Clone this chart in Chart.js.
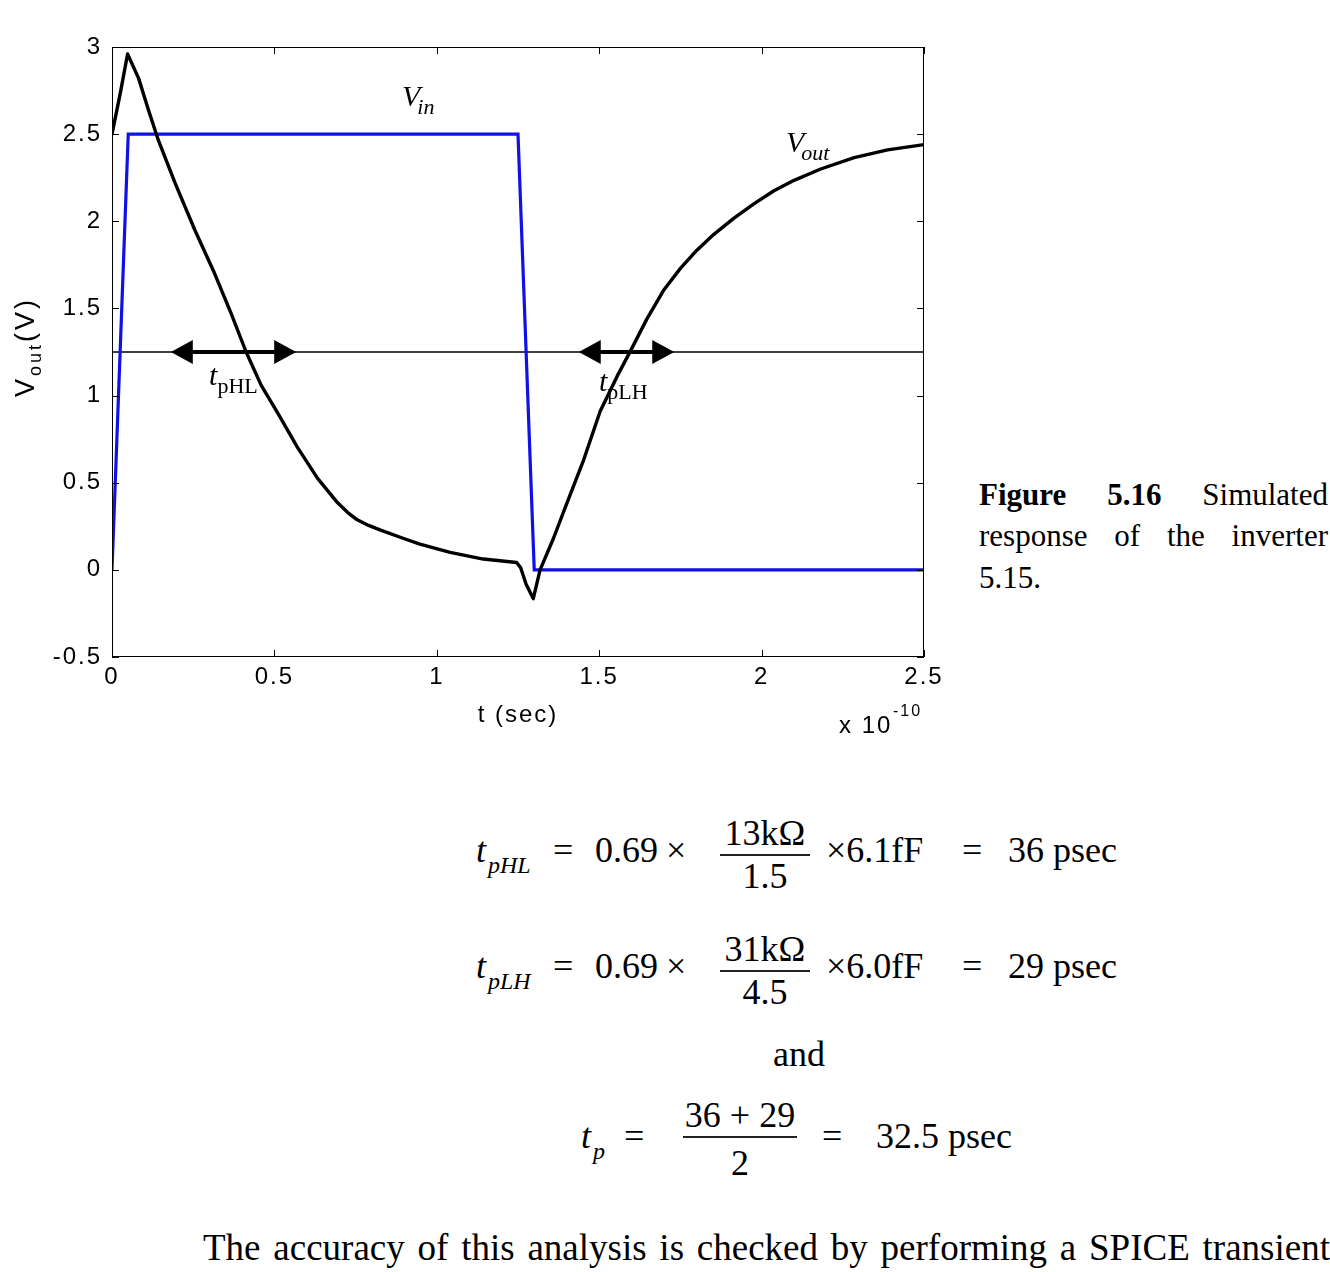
<!DOCTYPE html>
<html><head><meta charset="utf-8">
<script src="https://cdn.jsdelivr.net/npm/chart.js@4.4.1/dist/chart.umd.min.js"></script>
<style>
html,body{margin:0;padding:0;background:#fff;}
body{width:1330px;height:1272px;overflow:hidden;position:relative;}
#wrap{position:absolute;left:0;top:0;width:960px;height:760px;}
.t{position:absolute;white-space:pre;font-family:"Liberation Serif","Times New Roman",serif;color:#000;line-height:1em;}
.bar{position:absolute;height:0;border-top:2px solid #222;}
</style></head><body>
<div id="wrap"><canvas id="c" width="960" height="760"></canvas></div>
<div id="page"></div>
<script>
// ---- data (time in units of 1e-10 s, voltage in V) ----
const voutTime = [0, 0.026, 0.048, 0.082, 0.112, 0.143, 0.194, 0.255, 0.316, 0.367, 0.413, 0.459, 0.51, 0.571, 0.633, 0.694, 0.725, 0.755, 0.79, 0.827, 0.898, 0.948, 1.041, 1.143, 1.246, 1.258, 1.275, 1.297, 1.318, 1.359, 1.40, 1.452, 1.503, 1.555, 1.596, 1.647, 1.699, 1.75, 1.80, 1.853, 1.915, 1.976, 2.038, 2.10, 2.182, 2.285, 2.388, 2.5];
const voutValues = [2.5, 2.74, 2.96, 2.82, 2.64, 2.464, 2.22, 1.95, 1.70, 1.47, 1.25, 1.06, 0.901, 0.703, 0.525, 0.386, 0.33, 0.287, 0.255, 0.228, 0.18, 0.148, 0.10, 0.062, 0.042, 0.013, -0.083, -0.165, 0, 0.18, 0.38, 0.63, 0.91, 1.11, 1.255, 1.44, 1.606, 1.73, 1.833, 1.925, 2.018, 2.10, 2.175, 2.235, 2.30, 2.365, 2.41, 2.44];
const vinTime = [0, 0.05, 1.25, 1.30, 2.5];
const vinValues = [0, 2.5, 2.5, 0, 0];
const thresholdTime = [0, 2.5];
const thresholdValues = [1.25, 1.25];
const xTicks = [0, 0.5, 1, 1.5, 2, 2.5];
const yTicks = [-0.5, 0, 0.5, 1, 1.5, 2, 2.5, 3];
const tpHLSpan = [0.181, 0.567];
const tpLHSpan = [1.437, 1.731];

const toXY = (xs, ys) => xs.map((x, i) => ({x: x, y: ys[i]}));

const SANS = '"Liberation Sans", Arial, Helvetica, sans-serif';
const SERIF = '"Liberation Serif", "Times New Roman", serif';

const annotations = {
  arrows: [
    {from: tpHLSpan[0], to: tpHLSpan[1], y: thresholdValues[0]},
    {from: tpLHSpan[0], to: tpLHSpan[1], y: thresholdValues[0]}
  ],
  labels: [
    {main: 't', sub: 'pHL', x: 0.299, y: 1.061, subItalic: false},
    {main: 't', sub: 'pLH', x: 1.499, y: 1.027, subItalic: false},
    {main: 'V', sub: 'in', x: 0.893, y: 2.66, subItalic: true},
    {main: 'V', sub: 'out', x: 2.075, y: 2.40, subItalic: true}
  ]
};

const framePlugin = {
  id: 'frame',
  beforeDraw(chart) { chart.ctx.letterSpacing = '2px'; },
  afterDatasetsDraw(chart) {
    const ctx = chart.ctx, a = chart.chartArea, xs = chart.scales.x, ys = chart.scales.y;
    ctx.save();
    ctx.letterSpacing = '0px';
    ctx.strokeStyle = '#000';
    ctx.lineWidth = 1;
    ctx.strokeRect(a.left + 0.5, a.top + 0.5, a.right - a.left - 1, a.bottom - a.top - 1);
    const tl = 7;
    ctx.beginPath();
    xTicks.forEach(v => {
      const px = Math.round(xs.getPixelForValue(v)) + 0.5;
      ctx.moveTo(px, a.bottom); ctx.lineTo(px, a.bottom - tl);
      ctx.moveTo(px, a.top); ctx.lineTo(px, a.top + tl);
    });
    yTicks.forEach(v => {
      const py = Math.round(ys.getPixelForValue(v)) + 0.5;
      ctx.moveTo(a.left, py); ctx.lineTo(a.left + tl, py);
      ctx.moveTo(a.right, py); ctx.lineTo(a.right - tl, py);
    });
    ctx.stroke();

    // arrows
    annotations.arrows.forEach(ar => {
      const x1 = xs.getPixelForValue(ar.from), x2 = xs.getPixelForValue(ar.to), y = ys.getPixelForValue(ar.y);
      const hl = 22, hw = 12;
      ctx.fillStyle = '#000';
      ctx.lineWidth = 4;
      ctx.beginPath(); ctx.moveTo(x1 + hl - 2, y); ctx.lineTo(x2 - hl + 2, y); ctx.stroke();
      ctx.beginPath(); ctx.moveTo(x1, y); ctx.lineTo(x1 + hl, y - hw); ctx.lineTo(x1 + hl, y + hw); ctx.closePath(); ctx.fill();
      ctx.beginPath(); ctx.moveTo(x2, y); ctx.lineTo(x2 - hl, y - hw); ctx.lineTo(x2 - hl, y + hw); ctx.closePath(); ctx.fill();
    });

    // text labels
    ctx.fillStyle = '#000';
    ctx.textBaseline = 'alphabetic';
    ctx.textAlign = 'left';
    annotations.labels.forEach(l => {
      const x = xs.getPixelForValue(l.x), y = ys.getPixelForValue(l.y);
      ctx.font = 'italic 30px ' + SERIF;
      ctx.fillText(l.main, x, y);
      const w = ctx.measureText(l.main).width;
      ctx.font = (l.subItalic ? 'italic ' : '') + '22px ' + SERIF;
      ctx.fillText(l.sub, x + w - (l.main === 'V' ? 3 : 0), y + 8);
    });
    ctx.restore();
  },
  afterDraw(chart) {
    const ctx = chart.ctx, a = chart.chartArea;
    ctx.save();
    ctx.fillStyle = '#000';
    ctx.letterSpacing = '2px';
    ctx.textBaseline = 'alphabetic';
    // x title
    ctx.font = '24px ' + SANS;
    ctx.textAlign = 'center';
    ctx.fillText('t (sec)', (a.left + a.right) / 2, 722);
    // exponent
    ctx.textAlign = 'left';
    ctx.fillText('x 10', 839, 733);
    ctx.font = '16px ' + SANS;
    ctx.fillText('-10', 893, 716);
    // y title rotated
    ctx.translate(34, 397);
    ctx.rotate(-Math.PI / 2);
    ctx.letterSpacing = '3px';
    ctx.font = '27px ' + SANS;
    ctx.fillText('V', 0, 0);
    let w = ctx.measureText('V').width;
    ctx.font = '18px ' + SANS;
    ctx.fillText('out', w, 7);
    w += ctx.measureText('out').width;
    ctx.font = '27px ' + SANS;
    ctx.fillText('(V)', w, 0);
    ctx.restore();
  }
};

new Chart(document.getElementById('c').getContext('2d'), {
  type: 'scatter',
  data: {
    datasets: [
      {label: 'Vout', data: toXY(voutTime, voutValues), showLine: true, borderColor: '#000', borderWidth: 3.4, pointRadius: 0, tension: 0, borderJoinStyle: 'round', borderCapStyle: 'round', order: 0},
      {label: 'Vin', data: toXY(vinTime, vinValues), showLine: true, borderColor: '#1010e8', borderWidth: 3.2, pointRadius: 0, borderJoinStyle: 'miter', order: 1},
      {label: 'threshold', data: toXY(thresholdTime, thresholdValues), showLine: true, borderColor: '#000', borderWidth: 1.3, pointRadius: 0, order: 2}
    ]
  },
  options: {
    responsive: false,
    animation: false,
    devicePixelRatio: 1,
    layout: {padding: {top: 47, left: 0, right: 36, bottom: 0}},
    plugins: {legend: {display: false}, tooltip: {enabled: false}},
    scales: {
      x: {
        type: 'linear', min: 0, max: 2.5,
        afterBuildTicks: s => { s.ticks = xTicks.map(v => ({value: v})); },
        afterFit: s => { s.height = 103; },
        grid: {display: false, drawTicks: false},
        border: {display: false},
        ticks: {color: '#000', font: {family: SANS, size: 24}, padding: 6, maxRotation: 0, autoSkip: false, callback: v => String(v)}
      },
      y: {
        type: 'linear', min: -0.5, max: 3,
        afterBuildTicks: s => { s.ticks = yTicks.map(v => ({value: v})); },
        afterFit: s => { s.width = 112; },
        grid: {display: false, drawTicks: false},
        border: {display: false},
        ticks: {color: '#000', font: {family: SANS, size: 24}, padding: 10, autoSkip: false, callback: v => String(v)}
      }
    }
  },
  plugins: [framePlugin]
});

// ---- page text (caption, equations, body) ----
const page = document.getElementById('page');
function T(text, x, base, size, opt) {
  opt = opt || {};
  const s = document.createElement('span');
  s.className = 't';
  s.textContent = text;
  s.style.fontSize = size + 'px';
  if (opt.italic) s.style.fontStyle = 'italic';
  if (opt.bold) s.style.fontWeight = 'bold';
  s.style.top = (base - 0.8375 * size) + 'px';
  s.style.left = x + 'px';
  if (opt.center) s.style.transform = 'translateX(-50%)';
  if (opt.width) {
    s.style.width = opt.width + 'px';
    s.style.textAlign = 'justify';
    s.style.textAlignLast = 'justify';
    s.style.whiteSpace = 'normal';
    s.style.display = 'block';
  }
  if (opt.html) s.innerHTML = opt.html;
  page.appendChild(s);
  return s;
}
function bar(x1, x2, y) {
  const d = document.createElement('div');
  d.className = 'bar';
  d.style.left = x1 + 'px'; d.style.width = (x2 - x1) + 'px'; d.style.top = y + 'px';
  page.appendChild(d);
}
// caption
T('', 979, 505, 31, {width: 349, html: '<b>Figure</b> <b>5.16</b> Simulated'});
T('response of the inverter', 979, 546, 31, {width: 349});
T('5.15.', 979, 588, 31);

// equation 1
const F = 36;
T('t', 476, 862, F, {italic: true});
T('pHL', 488, 873, 24, {italic: true});
T('=', 553, 862, F);
T('0.69', 595, 862, F);
T('×', 666, 862, F);
T('13kΩ', 765, 845, F, {center: true});
bar(720, 810, 854);
T('1.5', 765, 888, F, {center: true});
T('×6.1fF', 826, 862, F);
T('=', 962, 862, F);
T('36 psec', 1008, 862, F);

// equation 2
T('t', 476, 978, F, {italic: true});
T('pLH', 488, 989, 24, {italic: true});
T('=', 553, 978, F);
T('0.69', 595, 978, F);
T('×', 666, 978, F);
T('31kΩ', 765, 961, F, {center: true});
bar(720, 810, 970);
T('4.5', 765, 1004, F, {center: true});
T('×6.0fF', 826, 978, F);
T('=', 962, 978, F);
T('29 psec', 1008, 978, F);

// and
T('and', 799, 1066, F, {center: true});

// equation 3
T('t', 581, 1148, F, {italic: true});
T('p', 593, 1159, 24, {italic: true});
T('=', 624, 1148, F);
T('36 + 29', 740, 1127, F, {center: true});
bar(683, 797, 1136);
T('2', 740, 1175, F, {center: true});
T('=', 822, 1148, F);
T('32.5 psec', 876, 1148, F);

// body text
T('The accuracy of this analysis is checked by performing a SPICE transient', 203, 1260, 37, {width: 1127});
</script>
</body></html>
